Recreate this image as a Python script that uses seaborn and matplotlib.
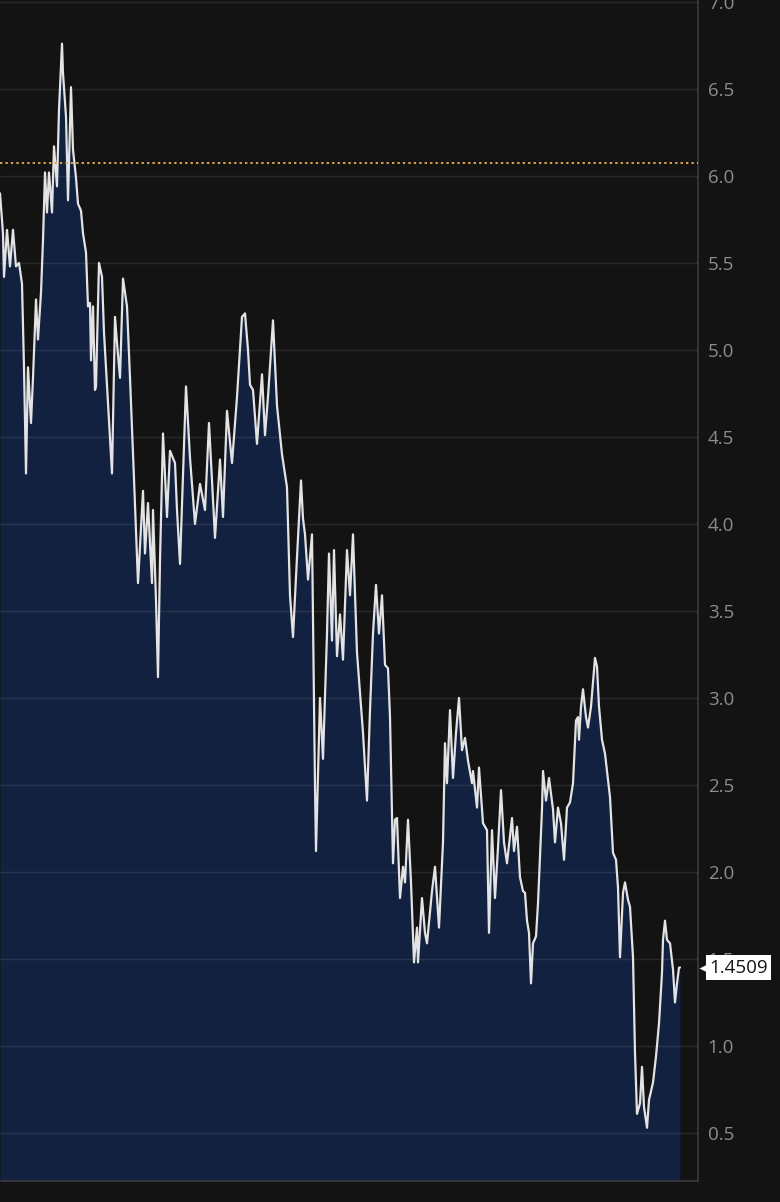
import numpy as np
import pandas as pd
import matplotlib
matplotlib.use('Agg')
import matplotlib.pyplot as plt
import seaborn as sns
from matplotlib.transforms import blended_transform_factory, ScaledTranslation

FONDO = '#131313'; AZUL = '#12213f'; LINEA = '#e3e3e3'; GRIS = '#8c8c8c'
NARANJA = '#e3a448'

# ── datos ────────────────────────────────────────────────────────────────────
session = [0, 3, 4, 7, 10, 13, 16, 19, 22, 24,
           26, 28, 31, 33, 36, 38, 41, 43, 45, 47,
           49, 52, 54, 57, 59, 62, 63, 66, 68, 71,
           73, 76, 78, 81, 83, 86, 88, 90, 91, 93,
           95, 96, 99, 102, 104, 107, 112, 115, 117, 120,
           123, 127, 130, 134, 138, 143, 145, 148, 152, 153,
           156, 158, 160, 163, 167, 170, 175, 177, 180, 186,
           190, 195, 200, 205, 209, 215, 220, 223, 227, 232,
           237, 242, 245, 248, 250, 253, 257, 262, 265, 268,
           273, 277, 282, 287, 290, 293, 297, 301, 303, 305,
           308, 312, 315, 316, 320, 323, 327, 329, 332, 334,
           337, 340, 343, 347, 350, 353, 357, 363, 367, 370,
           373, 376, 379, 382, 385, 388, 390, 393, 395, 397,
           400, 403, 405, 408, 411, 414, 417, 418, 422, 425,
           427, 432, 435, 439, 443, 445, 447, 450, 453, 456,
           459, 462, 465, 468, 472, 473, 477, 479, 483, 487,
           489, 492, 495, 498, 501, 504, 507, 512, 514, 517,
           520, 523, 525, 527, 529, 531, 533, 536, 538, 542,
           543, 546, 549, 553, 555, 558, 561, 564, 567, 570,
           573, 576, 578, 579, 581, 583, 586, 588, 591, 593,
           595, 597, 599, 602, 605, 607, 610, 613, 616, 618,
           620, 623, 625, 628, 630, 633, 635, 637, 640, 642,
           644, 647, 649, 653, 656, 659, 662, 663, 665, 667,
           670, 673, 675, 677, 679, 680]

price = [5.90, 5.67, 5.42, 5.69, 5.48, 5.69, 5.48, 5.50, 5.38, 4.90,
         4.29, 4.90, 4.58, 4.84, 5.29, 5.06, 5.33, 5.63, 6.02, 5.79,
         6.02, 5.79, 6.17, 5.94, 6.38, 6.76, 6.59, 6.34, 5.86, 6.51,
         6.15, 5.99, 5.84, 5.80, 5.67, 5.56, 5.25, 5.27, 4.94, 5.25,
         4.77, 4.79, 5.50, 5.42, 5.10, 4.80, 4.29, 5.19, 5.04, 4.84,
         5.41, 5.25, 4.84, 4.26, 3.66, 4.19, 3.83, 4.12, 3.66, 4.08,
         3.56, 3.12, 3.79, 4.52, 4.04, 4.42, 4.35, 4.08, 3.77, 4.79,
         4.38, 4.00, 4.23, 4.08, 4.58, 3.92, 4.37, 4.04, 4.65, 4.35,
         4.73, 5.19, 5.21, 5.00, 4.80, 4.77, 4.46, 4.86, 4.51, 4.73,
         5.17, 4.68, 4.40, 4.21, 3.59, 3.35, 3.81, 4.25, 4.03, 3.94,
         3.68, 3.94, 2.49, 2.12, 3.00, 2.65, 3.37, 3.83, 3.33, 3.85,
         3.24, 3.48, 3.22, 3.85, 3.59, 3.94, 3.26, 2.80, 2.41, 2.93,
         3.37, 3.65, 3.37, 3.59, 3.19, 3.17, 2.89, 2.05, 2.30, 2.31,
         1.85, 2.03, 1.94, 2.30, 1.94, 1.48, 1.68, 1.48, 1.85, 1.65,
         1.59, 1.89, 2.03, 1.68, 2.17, 2.74, 2.51, 2.93, 2.54, 2.80,
         3.00, 2.70, 2.77, 2.64, 2.51, 2.58, 2.37, 2.60, 2.28, 2.24,
         1.65, 2.24, 1.85, 2.14, 2.47, 2.17, 2.05, 2.31, 2.12, 2.26,
         1.97, 1.89, 1.88, 1.72, 1.65, 1.36, 1.59, 1.63, 1.82, 2.36,
         2.58, 2.41, 2.54, 2.36, 2.17, 2.37, 2.28, 2.07, 2.37, 2.40,
         2.51, 2.87, 2.89, 2.76, 2.95, 3.05, 2.89, 2.83, 2.95, 3.09,
         3.23, 3.18, 2.95, 2.76, 2.68, 2.58, 2.43, 2.11, 2.07, 1.91,
         1.51, 1.88, 1.94, 1.84, 1.80, 1.51, 0.96, 0.61, 0.67, 0.88,
         0.65, 0.53, 0.69, 0.79, 0.94, 1.13, 1.42, 1.61, 1.72, 1.61,
         1.59, 1.44, 1.25, 1.36, 1.45, 1.4509]

yticks = [0.5, 1.0, 1.5, 2.0, 2.5, 3.0, 3.5, 4.0, 4.5, 5.0, 5.5, 6.0, 6.5, 7.0]
ref_level = 6.075
y_range = (0.224, 7.011)

df = pd.DataFrame({'session': session, 'price': price})
last = df['price'].iloc[-1]

# ── estilo ───────────────────────────────────────────────────────────────────
sns.set_theme(style='dark', rc={'axes.facecolor': FONDO, 'figure.facecolor': FONDO})
plt.rcParams['font.family'] = ['Open Sans', 'DejaVu Sans']

fig = plt.figure(figsize=(7.8, 12.02), dpi=100)
ax = fig.add_axes([0, 1 - 1181/1202, 698/780, 1181/1202])
ax.set_facecolor(FONDO)

ax.fill_between(df['session'], df['price'], y_range[0], color=AZUL, lw=0, zorder=1)
sns.lineplot(data=df, x='session', y='price', ax=ax, color=LINEA, lw=1.6, zorder=3)
ax.axhline(ref_level, color=NARANJA, lw=1.4, ls=(0, (1.2, 1.6)), zorder=4)

ax.set_xlim(df['session'].min(), df['session'].max() + 18)
ax.set_ylim(*y_range)
ax.set_yticks(yticks)
ax.set_yticklabels([f'{t:.1f}' for t in yticks])
ax.yaxis.tick_right()
ax.set_xticks([])
ax.set_xlabel(''); ax.set_ylabel('')
ax.tick_params(axis='y', length=0, pad=7, labelcolor=GRIS, labelsize=13.5)
ax.set_axisbelow(False)
ax.grid(axis='y', color='#ffffff', alpha=0.09, lw=1)
ax.grid(axis='x', visible=False)
for s in ['top', 'left']:
    ax.spines[s].set_visible(False)
for s in ['right', 'bottom']:
    ax.spines[s].set_visible(True)
    ax.spines[s].set_color('#3a3a3a')
    ax.spines[s].set_linewidth(1.2)

# etiqueta del último valor
trans = blended_transform_factory(ax.transAxes, ax.transData)
ax.plot([1.0], [last], marker='<', ms=13, color='white', mec='none',
        transform=trans + ScaledTranslation(10/100, 0, fig.dpi_scale_trans),
        clip_on=False, zorder=10)
ax.text(1.0, last, f'{last:.4f}', fontsize=13.5, color='#151515', ha='left', va='center',
        transform=trans + ScaledTranslation(11/100, 0, fig.dpi_scale_trans),
        bbox=dict(boxstyle='square,pad=0.18', fc='white', ec='none'),
        clip_on=False, zorder=11)

fig.savefig('out.png', dpi=100, facecolor=FONDO)
plt.close()
